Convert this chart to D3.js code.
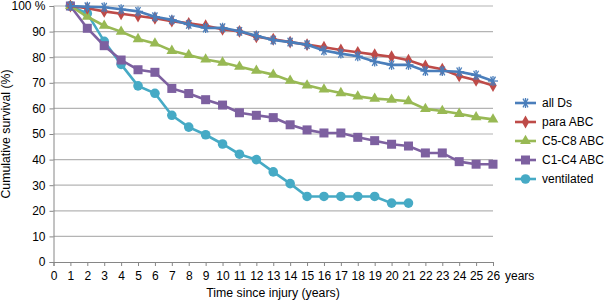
<!DOCTYPE html>
<html>
<head>
<meta charset="utf-8">
<script src="https://cdn.jsdelivr.net/npm/d3@7"></script>
<style>
  body { margin: 0; background: #fff; }
  text { font-family: "Liberation Sans", Arial, sans-serif; fill: #000; }
</style>
</head>
<body>
<div id="chart"></div>
<script>
// data
var years = d3.range(1, 27);
var allDs = [100, 99.7, 99.5, 98.7, 97.9, 95.8, 94.6, 92.8, 91.4, 91.5, 90.1, 88.4, 86.7, 85.9, 84.9, 82.6, 81.4, 80.4, 78.3, 77.0, 77.0, 74.6, 74.6, 74.3, 73.0, 70.7];
var paraABC = [100, 99.1, 97.9, 97.0, 96.1, 95.2, 94.1, 93.2, 92.3, 90.9, 90.1, 88.0, 87.0, 85.9, 84.9, 83.9, 82.8, 81.9, 81.0, 80.2, 78.8, 76.6, 75.3, 72.7, 71.0, 68.9];
var c5c8 = [100, 95.8, 92.3, 90.0, 87.1, 85.4, 82.5, 80.9, 79.1, 77.9, 76.3, 74.7, 73.2, 70.8, 69.0, 67.4, 66.0, 64.7, 63.8, 63.4, 62.8, 59.8, 59.0, 57.9, 56.6, 55.7];
var c1c4 = [100, 91.3, 84.5, 78.9, 75.1, 74.1, 67.8, 65.8, 63.4, 61.3, 58.3, 57.3, 56.4, 53.6, 51.6, 50.4, 50.4, 48.7, 47.4, 46.0, 45.3, 42.6, 42.6, 39.2, 38.2, 38.2];
var ventilated = [100, 97.1, 86.2, 77.2, 68.8, 65.9, 57.3, 52.7, 49.7, 46.1, 42.1, 40.0, 35.2, 30.6, 25.6, 25.6, 25.6, 25.6, 25.6, 23.0, 23.0];

var names = ["all Ds", "para ABC", "C5-C8 ABC", "C1-C4 ABC", "ventilated"];
var colors = ["#4a7ebb", "#be4b48", "#98b954", "#7d60a0", "#46aac5"];
var markers = ["star", "diamond", "triangle", "square", "circle"];
var yTicks = d3.range(0, 101, 10);
var xTicks = d3.range(0, 27);

var width = 605, height = 301;
var margin = {top: 6, right: 112, bottom: 39, left: 53.5};

var svg = d3.select("#chart").append("svg")
    .attr("width", width)
    .attr("height", height);

var x = d3.scaleLinear().domain([0, 26]).range([margin.left, width - margin.right]);
var y = d3.scaleLinear().domain([0, 100]).range([height - margin.bottom, margin.top]);

// gridlines
svg.append("g").selectAll("line")
    .data(yTicks.filter(function(d) { return d > 0; })).enter()
    .append("line")
    .attr("x1", x(0)).attr("x2", x(26))
    .attr("y1", function(d) { return y(d); })
    .attr("y2", function(d) { return y(d); })
    .style("stroke", "#b4b4b4")
    .style("stroke-width", 1.2);

// y axis
var yAxis = svg.append("g")
    .attr("transform", "translate(" + x(0) + ",0)")
    .call(d3.axisLeft(y).tickValues(yTicks).tickSize(4).tickPadding(4)
        .tickFormat(function(d) { return d == 100 ? "100 %" : d; }));
yAxis.select(".domain").style("stroke", "#868686");
yAxis.selectAll(".tick line").style("stroke", "#868686");
yAxis.selectAll("text").style("font-size", "12px").style("font-family", "Liberation Sans, Arial, sans-serif");

// x axis
var xAxis = svg.append("g")
    .attr("transform", "translate(0," + y(0) + ")")
    .call(d3.axisBottom(x).tickValues(xTicks).tickSize(4).tickPadding(5));
xAxis.select(".domain").style("stroke", "#868686");
xAxis.selectAll(".tick line").style("stroke", "#868686");
xAxis.selectAll("text").style("font-size", "12px").style("font-family", "Liberation Sans, Arial, sans-serif");

svg.append("text")
    .attr("x", x(26) + 12)
    .attr("y", y(0) + 18)
    .style("font-size", "12px")
    .text("years");

// axis titles
svg.append("text")
    .attr("x", 273)
    .attr("y", 297)
    .attr("text-anchor", "middle")
    .style("font-size", "12.3px")
    .text("Time since injury (years)");

svg.append("text")
    .attr("transform", "translate(10," + y(50) + ") rotate(-90)")
    .attr("text-anchor", "middle")
    .style("font-size", "12.3px")
    .text("Cumulative survival (%)");

function drawMarker(g, type, color) {
    if (type == "star") {
        var r = 5;
        [0, 60, 120].forEach(function(a) {
            var rad = a * Math.PI / 180;
            g.append("line")
                .attr("x1", -r * Math.cos(rad)).attr("y1", -r * Math.sin(rad))
                .attr("x2", r * Math.cos(rad)).attr("y2", r * Math.sin(rad))
                .style("stroke", color).style("stroke-width", 1.3);
        });
        g.append("line").attr("x1", 0).attr("x2", 0).attr("y1", -r).attr("y2", r)
            .style("stroke", color).style("stroke-width", 1.3);
    } else if (type == "diamond") {
        g.append("path").attr("d", d3.symbol(d3.symbolDiamond, 48)).style("fill", color);
    } else if (type == "triangle") {
        g.append("path").attr("d", d3.symbol(d3.symbolTriangle, 50)).style("fill", color);
    } else if (type == "square") {
        g.append("rect").attr("x", -4.5).attr("y", -4.5).attr("width", 9).attr("height", 9).style("fill", color);
    } else {
        g.append("circle").attr("r", 4.8).style("fill", color);
    }
}

var series = [allDs, paraABC, c5c8, c1c4, ventilated];
var line = d3.line()
    .x(function(d, i) { return x(years[i]); })
    .y(function(d) { return y(d); });

// draw in reverse order so that all Ds sits on top like the original
[4, 3, 2, 1, 0].forEach(function(s) {
    var g = svg.append("g").attr("class", "series");
    g.append("path")
        .attr("d", line(series[s]))
        .style("fill", "none")
        .style("stroke", colors[s])
        .style("stroke-width", 2.6);
    series[s].forEach(function(v, i) {
        var m = g.append("g").attr("transform", "translate(" + x(years[i]) + "," + y(v) + ")");
        drawMarker(m, markers[s], colors[s]);
    });
});

// legend
var legend = svg.append("g").selectAll("g")
    .data(names).enter()
    .append("g")
    .attr("transform", function(d, i) { return "translate(515," + (103 + i * 19) + ")"; });

legend.append("line")
    .attr("x1", 0).attr("x2", 21)
    .style("stroke", function(d, i) { return colors[i]; })
    .style("stroke-width", 2.6);
legend.each(function(d, i) {
    var m = d3.select(this).append("g").attr("transform", "translate(10.5,0)");
    drawMarker(m, markers[i], colors[i]);
});
legend.append("text")
    .attr("x", 27)
    .attr("dy", "0.35em")
    .style("font-size", "12px")
    .text(function(d) { return d; });
</script>
</body>
</html>
